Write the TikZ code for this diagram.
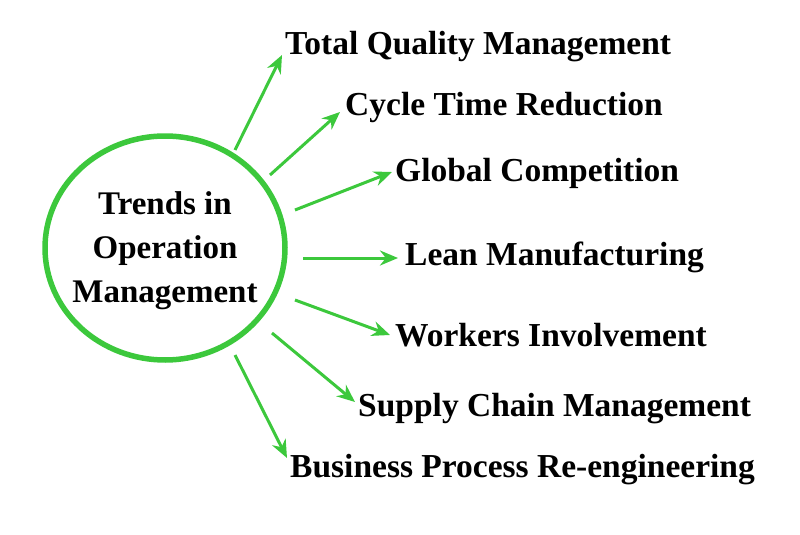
\documentclass[tikz,border=0pt]{standalone}
\usepackage{fontspec}
\setmainfont{Liberation Serif}
\usetikzlibrary{arrows.meta}
\definecolor{grn}{RGB}{60,200,60}
\begin{document}
\begin{tikzpicture}[x=1pt,y=-1pt,
  lbl/.style={anchor=west,inner sep=0pt,font=\bfseries\fontsize{33.5}{36}\selectfont},
  arr/.style={draw=grn,line width=3pt,-{Stealth[length=18pt,width=15pt]}}]
\useasboundingbox (0,0) rectangle (800,535);
\draw[grn,line width=5.5pt,line cap=round] (165,248) ++(222:120 and 112) arc[start angle=222,end angle=-145,x radius=120,y radius=112];
\node[align=center,inner sep=0pt,font=\bfseries\fontsize{33}{44}\selectfont] (c) at (165,251) {Trends in\\Operation\\Management};
\node[lbl] (t1) at (285,47) {Total Quality Management};
\node[lbl] (t2) at (345,107) {Cycle Time Reduction};
\node[lbl] (t3) at (395,173) {Global Competition};
\node[lbl] (t4) at (405,257) {Lean Manufacturing};
\node[lbl] (t5) at (395,335) {Workers Involvement};
\node[lbl] (t6) at (358,409) {Supply Chain Management};
\node[lbl] (t7) at (290,470) {Business Process Re-engineering};
\foreach \i/\a/\b/\c/\d in {1/235/150/282/55, 2/270/175/340/112, 3/295/210/392/172, 4/303/258/398/258, 5/295/300/390/335, 6/272/333/355/402, 7/235/355/287/458}{
  \coordinate (s\i) at (\a,\b); \coordinate (e\i) at (\c,\d);
  \draw[arr] (s\i) -- (e\i);
}
\end{tikzpicture}
\end{document}
